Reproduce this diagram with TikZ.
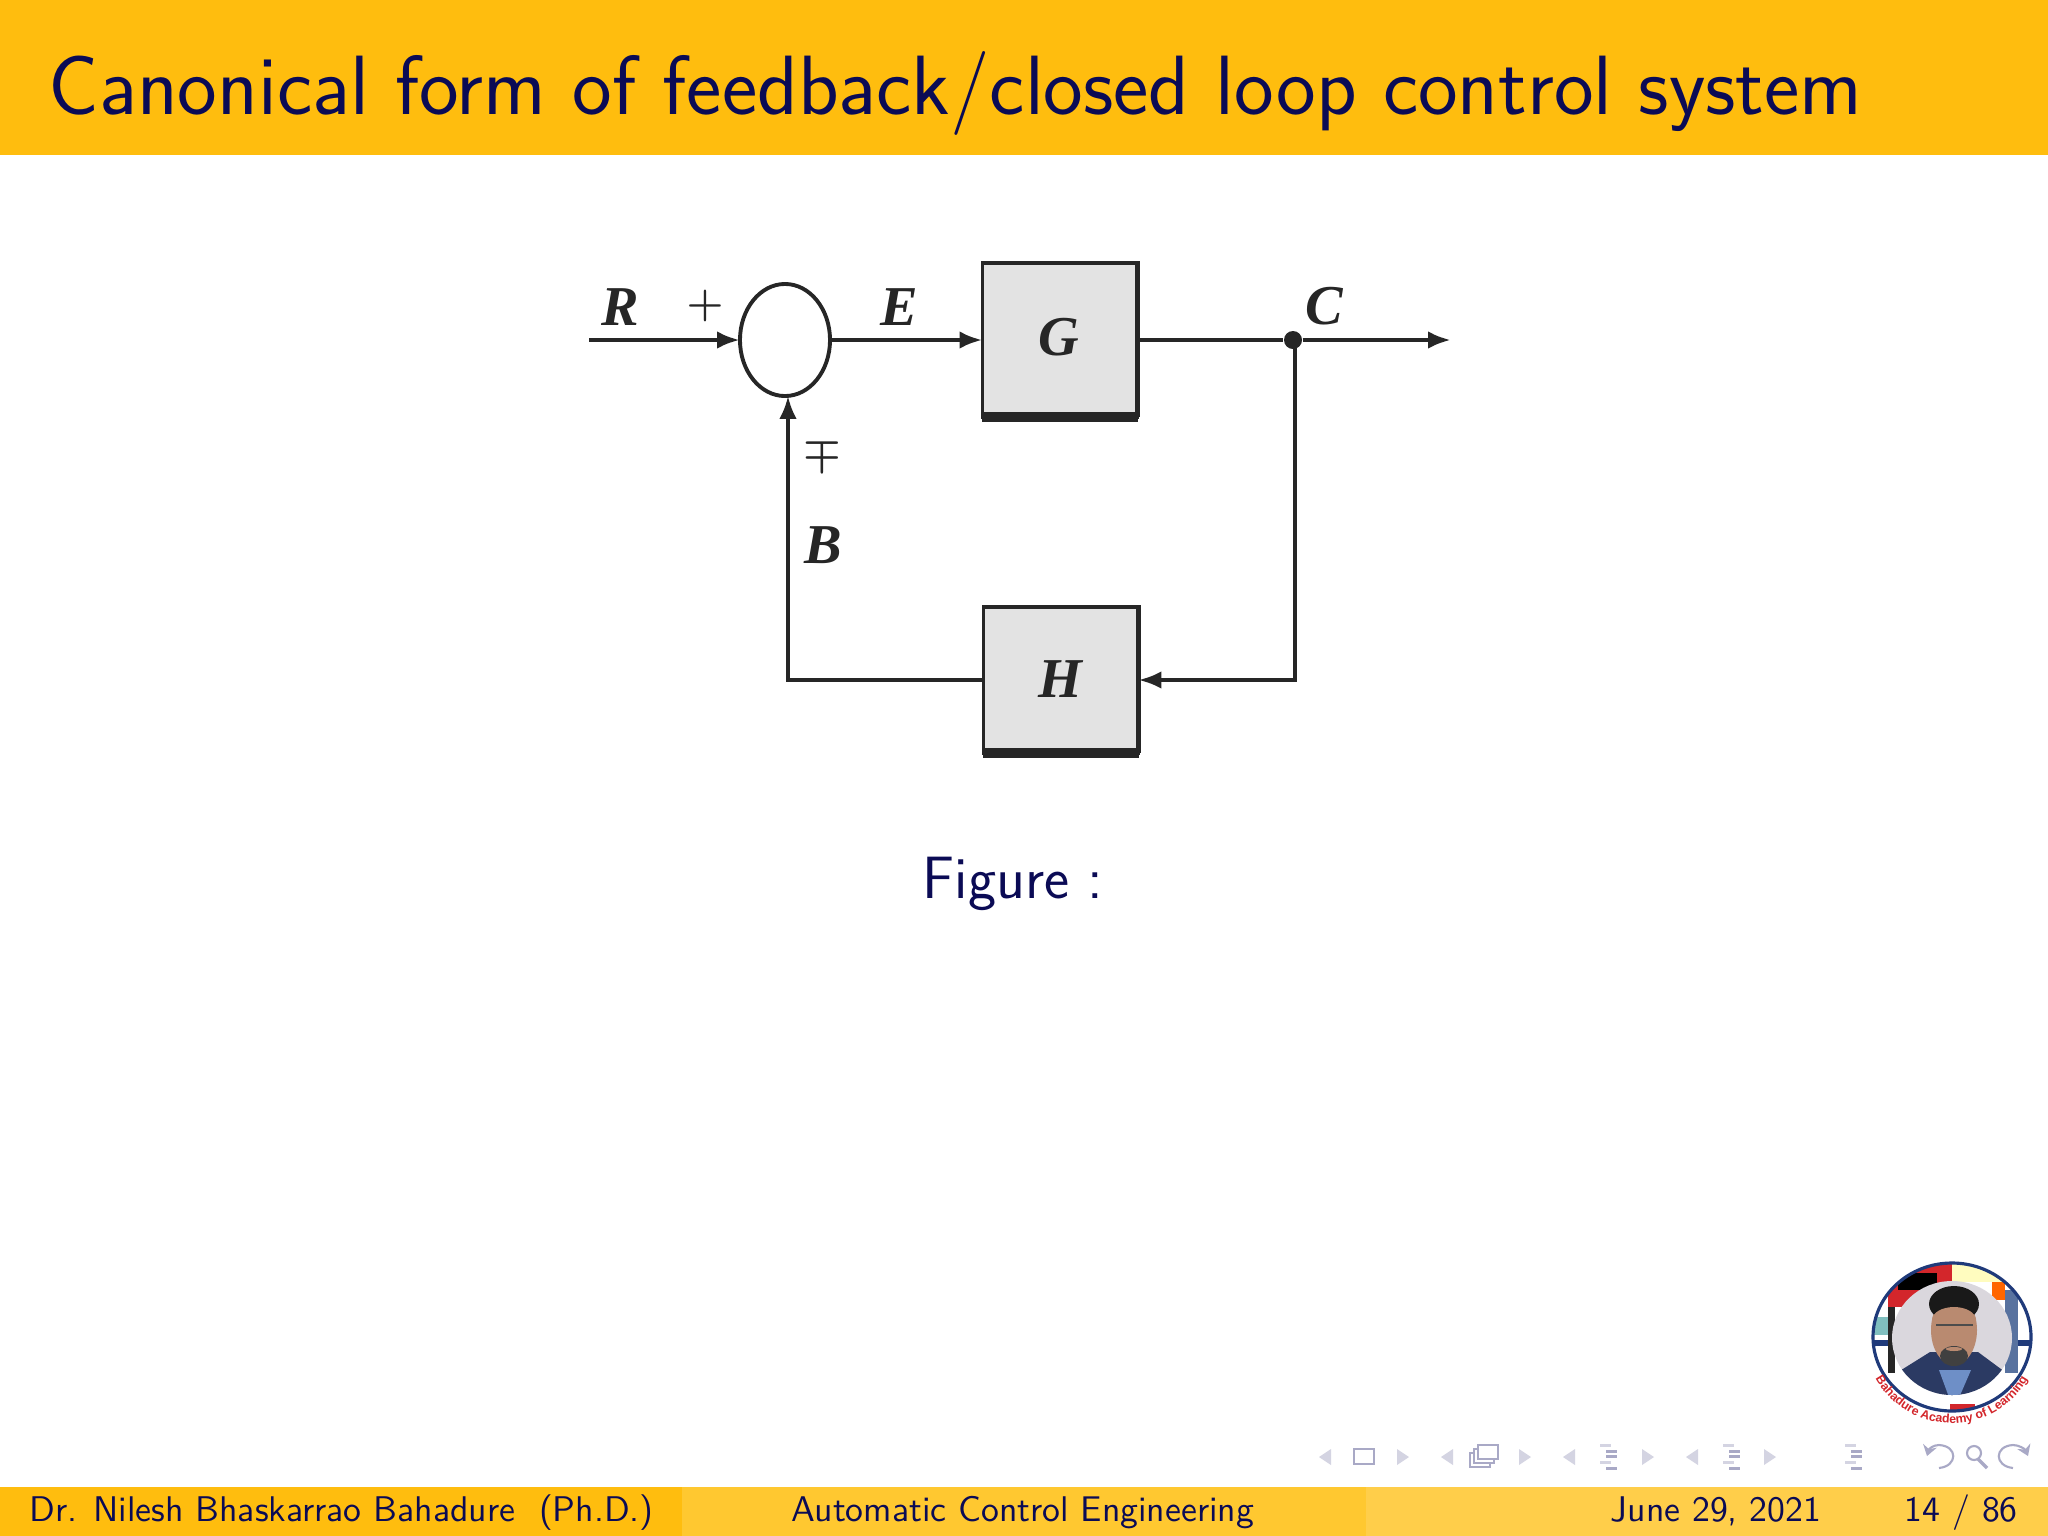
\documentclass[tikz,border=0pt]{standalone}
\usepackage{amsmath,amssymb}
\usepackage{fontspec}
\usetikzlibrary{positioning,shapes.geometric,arrows.meta,decorations.text}
\newfontfamily\logofont{Liberation Sans}
\newfontfamily\labelfont{Liberation Serif}
\definecolor{navytext}{HTML}{0B0B55}
\definecolor{barone}{HTML}{FFBD0E}
\definecolor{bartwo}{HTML}{FFC830}
\definecolor{barthree}{HTML}{FFCE4A}
\definecolor{inkline}{HTML}{262626}
\definecolor{boxgray}{HTML}{E3E3E3}
\definecolor{navlight}{HTML}{D4D4E2}
\definecolor{navdark}{HTML}{A9A9C6}
\definecolor{ringblue}{HTML}{1F3A7A}
\definecolor{logored}{HTML}{D3262B}
\definecolor{jacket}{HTML}{2B3A63}
\definecolor{shirt}{HTML}{6E8FC7}
\definecolor{skin}{HTML}{B98A70}
\definecolor{wallgray}{HTML}{DAD7DD}
\tikzset{
  block/.style={draw=inkline,fill=boxgray,line width=1pt,minimum width=1.55cm,inner sep=0pt,outer sep=0pt},
  sumcircle/.style={draw=inkline,ellipse,line width=1.1pt,minimum width=0.9cm,minimum height=1.12cm,inner sep=0pt,outer sep=0pt},
  wire/.style={draw=inkline,line width=1.3pt},
  arrowwire/.style={wire,-{Latex[length=6.5pt,width=5pt]}},
  blocklabel/.style={text=inkline,font=\fontsize{16}{16}\selectfont\labelfont\bfseries\itshape,inner sep=0pt},
  signlabel/.style={text=inkline,font=\fontsize{12.5}{13}\selectfont,inner sep=0pt},
  footertext/.style={text=navytext,font=\fontsize{10.15}{11}\selectfont\sffamily,anchor=base west,inner sep=0pt},
  navtip/.style={fill=navlight,draw=none},
  navstroke/.style={draw=navdark,line width=0.6pt},
}
\newcommand{\navlines}[1]{
  \foreach \y/\a/\c in {1445/0/navlight,1451/6/navdark,1456/6/navdark,1462/0/navlight,1468/6/navdark}
    \fill[\c] ({#1-8+\a},\y-1.5) rectangle ({#1+3+\a},\y+1.5);
}
\begin{document}
\begin{tikzpicture}[x=0.01cm,y=-0.01cm]
\useasboundingbox (0,0) rectangle (2048,1536);
\fill[white] (0,0) rectangle (2048,1536);

\fill[barone] (0,0) rectangle (2048,155);
\node[text=navytext,font=\fontsize{23.93}{26}\selectfont\sffamily,anchor=base west,inner sep=0pt] (title) at (48,114) {Canonical form of feedback/closed loop control system};

\node[block,minimum height=1.54cm] (g) at (1060,340) {};
\node[block,minimum height=1.46cm] (h) at (1061,680) {};
\foreach \b in {g,h} {
  \draw[inkline,line width=2.6pt] (\b.south west) -- (\b.south east);
  \draw[inkline,line width=1.3pt] (\b.north west) -- (\b.north east) -- (\b.south east);
}
\node[sumcircle] (sum) at (785,340) {};
\node[circle,fill=inkline,minimum size=0.18cm,inner sep=0pt] (jn) at (1293,340) {};
\coordinate (in) at (589,340);
\coordinate (out) at (1451,340);

\draw[arrowwire] (in) -- (sum.west);
\draw[arrowwire] (sum.east) -- (g.west);
\draw[wire] (g.east) -- (jn);
\draw[arrowwire] (jn) -- (out);
\draw[arrowwire,line width=1.1pt] ([xshift=0.02cm]jn.center) |- (h.east);
\draw[arrowwire,line width=1.1pt] (h.west) -| ([xshift=0.03cm]sum.south);

\node[blocklabel] (rlabel) at (620,307) {R};
\node[signlabel] (pluslabel) at (705,306) {$\boldsymbol{+}$};
\node[blocklabel] (elabel) at (899,307) {E};
\node[blocklabel] (glabel) at (1059,337) {G};
\node[blocklabel] (clabel) at (1324,306) {C};
\node[signlabel] (mplabel) at (822,454) {$\boldsymbol{\mp}$};
\node[blocklabel] (blabel) at (823,545) {B};
\node[blocklabel] (hlabel) at (1060,679) {H};

\node[text=navytext,font=\fontsize{17}{18}\selectfont\sffamily,anchor=base west,inner sep=0pt] (caption) at (922,898) {Figure :};

\begin{scope}
\clip (1952,1337) ellipse [x radius=79,y radius=74];
\fill[white] (1870,1260) rectangle (2035,1415);
\fill[logored] (1888,1263) rectangle (1952,1307);
\fill[black] (1898,1273) rectangle (1937,1290);
\fill[black!85] (1888,1307) rectangle (1895,1373);
\fill[yellow!25] (1952,1263) rectangle (2005,1282);
\fill[orange!80!red] (1992,1282) rectangle (2005,1300);
\fill[shirt!80!black] (2005,1290) rectangle (2018,1373);
\fill[teal!50] (1873,1317) rectangle (1888,1335);
\fill[ringblue] (1873,1340) rectangle (1888,1346);
\fill[ringblue] (2018,1340) rectangle (2035,1346);
\fill[logored] (1950,1404) rectangle (1975,1415);
\end{scope}
\begin{scope}
\clip (1952,1338) ellipse [x radius=60,y radius=57];
\fill[wallgray] (1890,1280) rectangle (2015,1400);
\fill[jacket] (1890,1400) -- (1898,1372) -- (1930,1352) -- (1978,1352) -- (2005,1372) -- (2015,1400) -- cycle;
\fill[shirt] (1939,1370) -- (1971,1370) -- (1958,1400) -- (1950,1400) -- cycle;
\fill[skin] (1954,1330) ellipse [x radius=23,y radius=35];
\fill[black!90] (1954,1304) ellipse [x radius=25,y radius=18];
\fill[skin] (1954,1320) ellipse [x radius=22,y radius=13];
\fill[black!75] (1954,1356) ellipse [x radius=14,y radius=10];
\fill[skin] (1954,1349) ellipse [x radius=8,y radius=2];
\draw[black!70,line width=0.4pt] (1936,1325) -- (1973,1325);
\end{scope}
\draw[ringblue,line width=0.9pt] (1952,1337) ellipse [x radius=79,y radius=74];
\path[decorate,decoration={text along path,text align=center,text={|\logofont\bfseries\fontsize{3.5}{4}\selectfont\color{logored}|Bahadure Academy of Learning}}] (1871,1369) arc [start angle=158,end angle=22,radius=87];

\foreach \x in {1325,1447,1569,1692} \fill[navtip] (\x+6,1449) -- (\x-6,1457) -- (\x+6,1465) -- cycle;
\foreach \x in {1403,1525,1648,1770} \fill[navtip] (\x-6,1449) -- (\x+6,1457) -- (\x-6,1465) -- cycle;
\draw[navstroke] (1354,1449) rectangle (1374,1464);
\foreach \d in {8,4,0} \draw[navstroke,fill=white] (1478-\d,1445+\d) rectangle (1498-\d,1459+\d);
\navlines{1608}
\navlines{1731}
\navlines{1853}
\draw[navstroke,-{Stealth[length=3pt,width=4pt]}] (1939,1468) .. controls (1958,1466) and (1958,1446) .. (1939,1445) .. controls (1933,1445) and (1929,1449) .. (1927,1456);
\draw[navstroke] (1974,1453) circle [radius=7];
\draw[navdark,line width=1pt] (1978,1459) -- (1987,1468);
\draw[navstroke,-{Stealth[length=3pt,width=4pt]}] (2013,1468) .. controls (1994,1466) and (1994,1446) .. (2013,1445) .. controls (2019,1445) and (2025,1449) .. (2028,1456);

\fill[barone] (0,1487) rectangle (682,1536);
\fill[bartwo] (682,1487) rectangle (1366,1536);
\fill[barthree] (1366,1487) rectangle (2048,1536);
\node[footertext] (author) at (29,1521) {Dr. Nilesh Bhaskarrao Bahadure\ \ (Ph.D.)};
\node[footertext] (course) at (791,1521) {Automatic Control Engineering};
\node[footertext] (date) at (1610,1521) {June 29, 2021};
\node[footertext] (page) at (1904,1521) {14 / 86};
\end{tikzpicture}
\end{document}
